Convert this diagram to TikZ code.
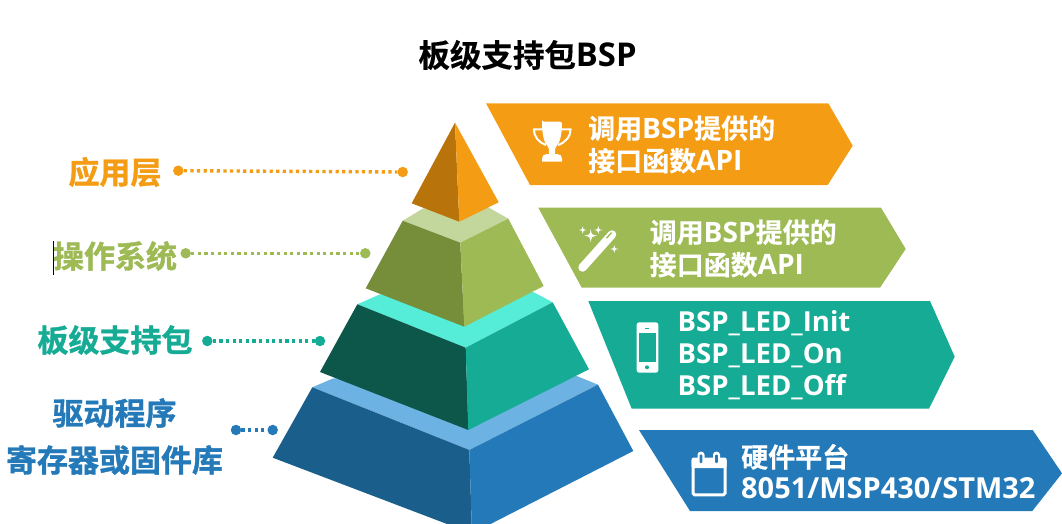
\documentclass[tikz,border=0pt]{standalone}
\usepackage{fontspec}
\newfontfamily\cjk{Noto Sans CJK SC}[BoldFont={Noto Sans CJK SC Bold},BoldFeatures={FakeBold=0.4}]
\newfontfamily\cjkh{Noto Sans CJK SC}[BoldFont={Noto Sans CJK SC Bold},BoldFeatures={FakeBold=1.2}]
\newfontfamily\lat{Open Sans}[Scale=1.04]
\newcommand{\zh}[1]{{\cjk\bfseries #1}}
\newcommand{\zhh}[1]{{\cjkh\bfseries #1}}
\newcommand{\en}[1]{{\lat\bfseries #1}}
\definecolor{orangeM}{HTML}{F39C14}
\definecolor{orangeD}{HTML}{B8730A}
\definecolor{greenM}{HTML}{9DBA55}
\definecolor{greenD}{HTML}{768E3A}
\definecolor{greenL}{HTML}{C3D69B}
\definecolor{tealM}{HTML}{16AB95}
\definecolor{tealD}{HTML}{0C574A}
\definecolor{tealL}{HTML}{55ECD8}
\definecolor{blueM}{HTML}{2479B8}
\definecolor{blueD}{HTML}{1A5E8C}
\definecolor{blueL}{HTML}{6CB2E2}
\newcommand{\sparkle}[3]{\fill[white,shift={(#1,#2)},scale=#3] (0,-1) .. controls (0.14,-0.14) .. (1,0) .. controls (0.14,0.14) .. (0,1) .. controls (-0.14,0.14) .. (-1,0) .. controls (-0.14,-0.14) .. cycle;}
\tikzset{
  endot/.style={circle,fill=#1,draw=none,minimum size=10.5pt,inner sep=0pt},
  leader/.style={draw=#1,line width=3.4pt,dash pattern=on 3.2pt off 3.4pt},
  sidelabel/.style={text=#1,font=\fontsize{31}{38}\selectfont,inner sep=0pt,align=center},
  bannertext/.style={text=white,font=\fontsize{27}{32.5}\selectfont,inner sep=0pt,align=left,anchor=west},
}
\begin{document}
\begin{tikzpicture}[x=1pt,y=-1pt]
\useasboundingbox (0,0) rectangle (1062,524);
\clip (0,0) rectangle (1062,524);
% pyramid
\fill[blueL] (333.3,378.3) -- (576.7,376) -- (598,384.7) -- (469.3,450) -- (312.3,387.3) -- cycle;
\fill[blueD] (312.3,387.3) -- (469.3,450) -- (472,533.5) -- (272.7,457.7) -- cycle;
\fill[blueM] (598,384.7) -- (633.3,451) -- (472,533.5) -- (469.3,450) -- cycle;
\fill[tealL] (380,294.3) -- (533.3,292) -- (552.7,302.3) -- (465.7,347.7) -- (357.3,304.3) -- cycle;
\fill[tealD] (357.3,304.3) -- (465.7,347.7) -- (468.3,430) -- (320,372) -- cycle;
\fill[tealM] (552.7,302.3) -- (589,369.3) -- (468.3,430) -- (465.7,347.7) -- cycle;
\fill[greenL] (423.3,208.3) -- (488.3,207.3) -- (508.3,218.7) -- (460.3,242.7) -- (402.7,220.7) -- cycle;
\fill[greenD] (402.7,220.7) -- (460.3,242.7) -- (464.3,326.7) -- (365.7,288.3) -- cycle;
\fill[greenM] (508.3,218.7) -- (543.7,286) -- (464.3,326.7) -- (460.3,242.7) -- cycle;
\fill[orangeD] (455,122.7) -- (459.3,221.7) -- (411.7,203.3) -- cycle;
\fill[orangeM] (455,122.7) -- (498.7,202.3) -- (459.3,221.7) -- cycle;
% banners
\fill[orangeM] (486,103.3) -- (828.3,103.3) -- (852.7,145.7) -- (827.7,185) -- (530,185) -- cycle;
\fill[greenM] (538.3,207.7) -- (881,207.7) -- (905.7,249) -- (880,287.7) -- (581.7,287.7) -- cycle;
\fill[tealM] (588.3,301) -- (930,301) -- (954.7,356.7) -- (929,408.7) -- (631.7,408.7) -- cycle;
\fill[blueM] (639,430) -- (1032.7,430) -- (1062,473.3) -- (1032.3,511) -- (690,511) -- cycle;
% title
\node[inner sep=0pt,font=\fontsize{31.5}{36}\selectfont] (title) at (527.5,55) {\zh{板级支持包}\en{BSP}};
% left labels
\node[sidelabel=orangeM] (l1) at (115,172) {\zhh{应用层}};
\node[sidelabel=greenM] (l2) at (115,256) {\zhh{操作系统}};
\node[sidelabel=tealM] (l3) at (115,340) {\zhh{板级支持包}};
\node[sidelabel=blueM] (l4a) at (114.5,413) {\zhh{驱动程序}};
\node[sidelabel=blueM] (l4b) at (114.5,460) {\zhh{寄存器或固件库}};
\draw[black,line width=0.7pt] (53,241) -- (53,275);
% leaders
\node[endot=orangeM] (a1) at (178.3,170.7) {};
\node[endot=orangeM] (b1) at (402.7,172) {};
\node[endot=greenM] (a2) at (185.7,253.3) {};
\node[endot=greenM] (b2) at (365.3,253.3) {};
\node[endot=tealM] (a3) at (207.3,341) {};
\node[endot=tealM] (b3) at (320,341) {};
\node[endot=blueM] (a4) at (236,430) {};
\node[endot=blueM] (b4) at (272.7,430) {};
\draw[leader=orangeM] (a1) -- (b1);
\draw[leader=greenM] (a2) -- (b2);
\draw[leader=tealM] (a3) -- (b3);
\draw[leader=blueM] (a4) -- (b4);
% banner text
\node[bannertext] (t1) at (588,144.5) {\zh{调用}\en{BSP}\zh{提供的}\\\zh{接口函数}\en{API}};
\node[bannertext] (t2) at (649.5,248.5) {\zh{调用}\en{BSP}\zh{提供的}\\\zh{接口函数}\en{API}};
\node[bannertext,font=\fontsize{26.5}{32}\selectfont] (t3) at (677.5,355) {\en{BSP\_LED\_Init}\\\en{BSP\_LED\_On}\\\en{BSP\_LED\_Off}};
\node[bannertext,font=\fontsize{27}{31.5}\selectfont] (t4) at (741,471.5) {\zh{硬件平台}\\{\fontsize{27.85}{31.5}\selectfont\en{8051/MSP430/STM32}}};
% trophy
\fill[white,rounded corners=2pt] (542,121.7) -- (562,121.7) .. controls (562,136) and (559,144) .. (555.3,146.5) -- (555,155) -- (549,155) -- (548.7,146.5) .. controls (545,144) and (542,136) .. (542,121.7) -- cycle;
\draw[white,line width=2pt] (542,129.5) -- (534,129.5) .. controls (533.5,136) and (539,143) .. (546,145);
\draw[white,line width=2pt] (562,129.5) -- (570.5,129.5) .. controls (571,136) and (565,143) .. (558,145);
\fill[white] (542,161.7) -- (542,158.5) .. controls (542,155.5) and (544,154) .. (547,154) -- (557,154) .. controls (560,154) and (562,155.5) .. (562,158.5) -- (562,161.7) -- cycle;
% wand
\draw[white,line width=8.5pt,line cap=round] (582.5,267.5) -- (612,234.5);
\draw[greenM,line width=1.4pt] (606.5,238.2) -- (611.5,232.7);
\sparkle{590.7}{235.7}{6.5}
\sparkle{582.7}{230}{3.6}
\sparkle{598.3}{230}{4.2}
\sparkle{614.3}{249}{4.2}
% phone
\fill[white,rounded corners=2.5pt] (636.7,322.3) rectangle (658.3,372.7);
\fill[tealM] (639,332.7) rectangle (655.7,361.7);
\fill[tealM] (645,327.8) rectangle (649.3,328.8);
\fill[tealM] (647,367.3) circle (2);
% calendar
\draw[white,line width=3pt,rounded corners=1.5pt] (693,459.5) rectangle (725,494.8);
\fill[white,rounded corners=1.5pt] (691.5,457.5) rectangle (726.5,468);
\fill[white,rounded corners=3pt] (697.5,451.7) rectangle (704.5,463);
\fill[white,rounded corners=3pt] (713,451.7) rectangle (720,463);
\fill[blueM,rounded corners=1pt] (699.7,454.5) rectangle (702.3,463);
\fill[blueM,rounded corners=1pt] (715.2,454.5) rectangle (717.8,463);
\end{tikzpicture}
\end{document}
